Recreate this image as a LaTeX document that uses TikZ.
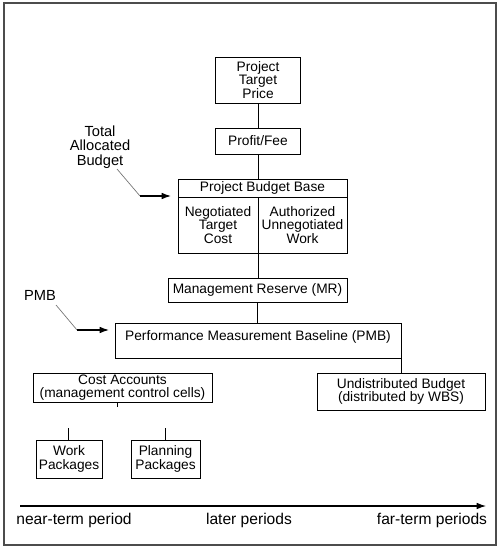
\documentclass[tikz,border=0pt]{standalone}
\usepackage{fontspec}
\setmainfont{Liberation Sans}
\usetikzlibrary{arrows.meta}
\begin{document}
\begin{tikzpicture}[x=0.75pt,y=-0.75pt,
  wh/.style 2 args={minimum width=#1*0.75pt,minimum height=#2*0.75pt},
  box/.style={draw,line width=0.7pt,inner sep=0pt,align=center,font=\fontsize{10.3}{10}\selectfont},
  lab/.style={align=center,inner sep=0pt,font=\fontsize{11}{10.9}\selectfont},
  tlab/.style={inner sep=0pt,font=\fontsize{11.7}{12}\selectfont},
  conn/.style={line width=0.6pt},
  lead/.style={line width=0.5pt,black!55},
  pointer/.style={line width=0.9pt,-{Latex[length=7pt,width=5pt]}}]
\useasboundingbox (0,0) rectangle (500,550);
\draw[line width=1pt,black!70] (4,3) rectangle (496,545);
% boxes
\node[box,wh={85}{46}] (ptp) at (258,80) {Project\\Target\\Price};
\node[box,wh={85}{26}] (pf) at (258,141) {Profit/Fee};
\node[box,wh={169}{18}] (pbb) at (262.5,188) {Project Budget Base};
\node[box,wh={80}{56}] (ntc) at (218,225) {Negotiated\\Target\\Cost};
\node[box,wh={89}{56}] (auw) at (302.5,225) {Authorized\\Unnegotiated\\Work};
\node[box,wh={179}{24}] (mr) at (257.5,290) {Management Reserve (MR)};
\node[box,wh={286}{35},text height=7pt,text depth=7.5pt] (pmb) at (258,340.5) {Performance Measurement Baseline (PMB)};
\node[box,wh={179}{29}] (ca) at (122.5,387.5) {Cost Accounts\\(management control cells)};
\node[box,wh={168}{37}] (ub) at (401,391.5) {Undistributed Budget\\(distributed by WBS)};
\node[box,wh={66}{38}] (wp) at (69,459) {Work\\Packages};
\node[box,wh={69}{38}] (pp) at (165.5,459) {Planning\\Packages};
% connectors
\draw[conn] (ptp.south) -- (pf.north);
\draw[conn] (pf.south) -- (pf.south |- pbb.north);
\draw[conn] (ntc.south east) -- (ntc.south east |- mr.north);
\draw[conn] (mr.south) -- (mr.south |- pmb.north);
\draw[conn] (pmb.south -| ub.north) -- (ub.north);
\coordinate (castub) at (117,407);
\draw[conn] (ca.south -| castub) -- (castub);
\coordinate (wptop) at (68,428);
\draw[conn] (wp.north -| wptop) -- (wptop);
\coordinate (pptop) at (165,428);
\draw[conn] (pp.north -| pptop) -- (pptop);
% labels with pointers
\node[lab] (tab) at (100,147) {Total\\Allocated\\Budget};
\coordinate (tabs) at (117,169);
\coordinate (tabk) at (140,196);
\coordinate (tabtip) at (171,196);
\draw[lead] (tabs) -- (tabk);
\draw[pointer] (tabk) -- (tabtip);
\node[lab] (pmblab) at (40,295) {PMB};
\coordinate (pmbs) at (56,305);
\coordinate (pmbk) at (77,330);
\coordinate (pmbtip) at (109,330);
\draw[lead] (pmbs) -- (pmbk);
\draw[pointer] (pmbk) -- (pmbtip);
% time line
\coordinate (t0) at (20,506);
\coordinate (t1) at (486,506);
\draw[line width=0.8pt,-{Latex[length=7pt,width=5pt]}] (t0) -- (t1);
\node[tlab] (near) at (74,520) {near-term period};
\node[tlab] (later) at (249,520) {later periods};
\node[tlab] (far) at (432,520) {far-term periods};
\end{tikzpicture}
\end{document}
